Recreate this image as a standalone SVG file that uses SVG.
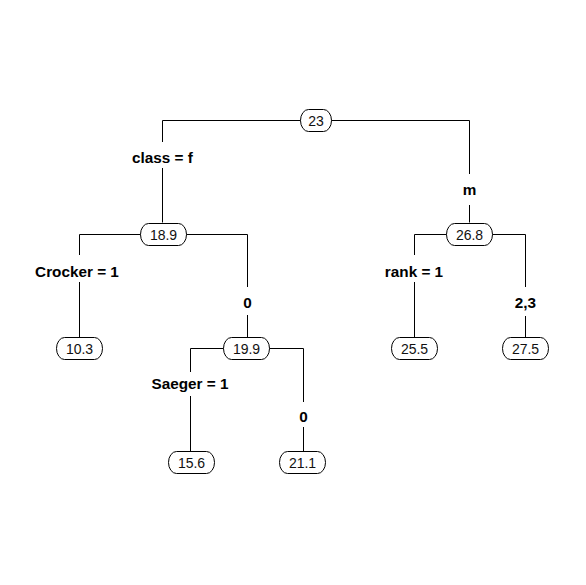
<svg xmlns="http://www.w3.org/2000/svg" width="586" height="585" viewBox="0 0 586 585">
<style>
.c{stroke:#000;stroke-width:1;fill:none}
.n rect{fill:#fff;stroke:#000;stroke-width:1}
.n text{font-family:"Liberation Sans",Arial,sans-serif;font-size:14px;fill:#111;text-anchor:middle}
.l{font-family:"Liberation Sans",Arial,sans-serif;font-size:15.3px;font-weight:bold;fill:#000;text-anchor:middle}
</style>
<rect width="586" height="585" fill="#fff"/>
<g id="connectors" class="c">
<path d="M162.5 120.5H469.5M162.5 120.5V142M162.5 168V222.5M469.5 120.5V174M469.5 205V222.5"/>
<path d="M79.5 234.5H247.5M79.5 234.5V255M79.5 282V337.5M247.5 234.5V287M247.5 315V337.5"/>
<path d="M190.5 348.5H303.5M190.5 348.5V372M190.5 396V451.5M303.5 348.5V402M303.5 427V451.5"/>
<path d="M414.5 234.5H525.5M414.5 234.5V255M414.5 282V337.5M525.5 234.5V287M525.5 316V337.5"/>
</g>
<g id="labels">
<text class="l" x="162.5" y="163">class = f</text>
<text class="l" x="469.5" y="195">m</text>
<text class="l" x="77" y="277">Crocker = 1</text>
<text class="l" x="247.5" y="308">0</text>
<text class="l" x="190" y="389">Saeger = 1</text>
<text class="l" x="303.5" y="422">0</text>
<text class="l" x="414" y="277">rank = 1</text>
<text class="l" x="525.5" y="308">2,3</text>
</g>
<g id="n23" class="n"><rect x="300.5" y="109.5" width="31" height="22" rx="8" ry="11"/><text x="316" y="125.5">23</text></g>
<g id="n18_9" class="n"><rect x="140.5" y="223.5" width="46" height="22" rx="8" ry="11"/><text x="163.5" y="239.5">18.9</text></g>
<g id="n26_8" class="n"><rect x="446.5" y="223.5" width="46" height="22" rx="8" ry="11"/><text x="469.5" y="239.5">26.8</text></g>
<g id="n10_3" class="n"><rect x="56.5" y="337.5" width="46" height="22" rx="8" ry="11"/><text x="79.5" y="353.5">10.3</text></g>
<g id="n19_9" class="n"><rect x="223.5" y="337.5" width="46" height="22" rx="8" ry="11"/><text x="246.5" y="353.5">19.9</text></g>
<g id="n25_5" class="n"><rect x="391.5" y="337.5" width="46" height="22" rx="8" ry="11"/><text x="414.5" y="353.5">25.5</text></g>
<g id="n27_5" class="n"><rect x="502.5" y="337.5" width="46" height="22" rx="8" ry="11"/><text x="525.5" y="353.5">27.5</text></g>
<g id="n15_6" class="n"><rect x="168.5" y="451.5" width="46" height="22" rx="8" ry="11"/><text x="191.5" y="467.5">15.6</text></g>
<g id="n21_1" class="n"><rect x="279.5" y="451.5" width="46" height="22" rx="8" ry="11"/><text x="302.5" y="467.5">21.1</text></g>
</svg>
